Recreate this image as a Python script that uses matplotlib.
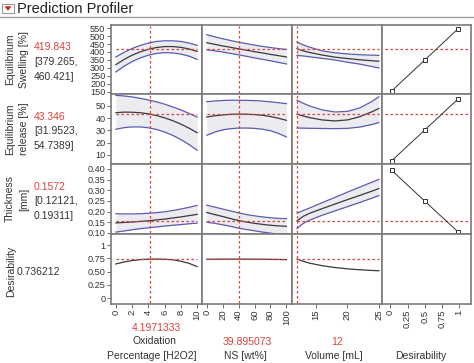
import matplotlib.pyplot as plt
from matplotlib.patches import Rectangle, Polygon

plt.rcParams['font.family'] = ['Liberation Sans', 'DejaVu Sans']

# factor settings
oxidation = [0, 1, 2, 3, 4, 5, 6, 7, 8, 9, 10]
ns = [0, 10, 20, 30, 40, 50, 60, 70, 80, 90, 100]
volume = [12, 13, 14, 16, 18, 20, 22, 24, 25]

# Equilibrium Swelling [%]
swell_ox = [321, 353, 380, 401, 417, 428, 434, 434, 429, 419, 404]
swell_ox_hi = [369, 398, 422, 441, 456, 466, 470, 470, 466, 456, 442]
swell_ox_lo = [275, 311, 340, 363, 380, 391, 396, 394, 387, 374, 354]
swell_ns = [458, 448, 438, 429, 420, 411, 402, 394, 385, 377, 369]
swell_ns_hi = [508, 495, 483, 472, 461, 452, 443, 435, 428, 421, 416]
swell_ns_lo = [414, 407, 400, 391, 382, 373, 363, 354, 345, 335, 325]
swell_vol = [420, 407, 397, 381, 368, 359, 351, 345, 342]
swell_vol_hi = [462, 444, 430, 407, 395, 388, 383, 380, 379]
swell_vol_lo = [379, 375, 370, 360, 350, 336, 324, 308, 300]

# Equilibrium release [%]
rel_ox = [44.5, 45.0, 44.9, 44.5, 43.6, 42.2, 40.3, 38.0, 35.2, 31.9, 28.2]
rel_ox_hi = [58.7, 58.2, 57.4, 56.3, 54.9, 53.4, 51.5, 49.2, 46.8, 44.0, 41.0]
rel_ox_lo = [31.0, 32.3, 32.9, 32.9, 32.2, 30.8, 28.7, 26.0, 22.6, 18.5, 13.8]
rel_ns = [41.0, 42.0, 42.7, 43.2, 43.35, 43.3, 43.0, 42.4, 41.4, 40.0, 38.3]
rel_ns_hi = [53.5, 54.1, 54.5, 54.7, 54.7, 54.6, 54.4, 54.0, 53.4, 52.7, 51.9]
rel_ns_lo = [26.1, 28.7, 30.5, 31.5, 31.95, 32.0, 31.7, 31.0, 29.8, 27.6, 24.7]
rel_vol = [43.35, 41.8, 40.5, 38.6, 37.8, 38.6, 41.3, 45.5, 48.0]
rel_vol_hi = [54.7, 52.2, 50.0, 46.8, 45.1, 45.6, 48.5, 54.0, 57.5]
rel_vol_lo = [32.0, 31.9, 31.8, 31.6, 31.5, 31.7, 32.8, 35.0, 36.5]

# Thickness [mm]
thick_ox = [0.147, 0.149, 0.151, 0.154, 0.157, 0.161, 0.165, 0.170, 0.175, 0.181, 0.187]
thick_ox_hi = [0.190, 0.189, 0.189, 0.190, 0.192, 0.195, 0.199, 0.205, 0.212, 0.220, 0.229]
thick_ox_lo = [0.104, 0.109, 0.115, 0.120, 0.124, 0.128, 0.132, 0.136, 0.139, 0.143, 0.146]
thick_ns = [0.196, 0.186, 0.177, 0.167, 0.158, 0.151, 0.145, 0.140, 0.136, 0.133, 0.131]
thick_ns_hi = [0.230, 0.221, 0.212, 0.203, 0.194, 0.186, 0.180, 0.175, 0.171, 0.168, 0.167]
thick_ns_lo = [0.150, 0.145, 0.138, 0.131, 0.122, 0.116, 0.110, 0.104, 0.099, 0.094, 0.088]
thick_vol = [0.157, 0.178, 0.192, 0.214, 0.235, 0.256, 0.276, 0.297, 0.308]
thick_vol_hi = [0.193, 0.205, 0.217, 0.242, 0.266, 0.291, 0.315, 0.339, 0.351]
thick_vol_lo = [0.121, 0.145, 0.160, 0.183, 0.203, 0.223, 0.243, 0.264, 0.275]

# Desirability
des_ox = [0.645, 0.682, 0.709, 0.727, 0.736, 0.738, 0.734, 0.724, 0.697, 0.657, 0.595]
des_ns = [0.733, 0.735, 0.736, 0.736, 0.736, 0.736, 0.735, 0.734, 0.732, 0.730, 0.727]
des_vol = [0.736, 0.695, 0.660, 0.612, 0.578, 0.553, 0.535, 0.522, 0.517]

# desirability functions (desirability, response)
des_pts = [0.0183, 0.5, 0.9817]
swell_des = [155, 350, 545]
rel_des = [5.1, 30.4, 55.7]
thick_des = [0.394, 0.249, 0.105]

# current settings / predictions
factor_now = [4.1971333, 39.895073, 12]
factor_now_txt = ['4.1971333', '39.895073', '12']
resp_labels = [['Equilibrium', 'Swelling [%]'], ['Equilibrium', 'release [%]'],
               ['Thickness', '[mm]'], ['Desirability']]
resp_now = [419.843, 43.346, 0.1572, 0.736212]
resp_now_txt = ['419.843', '43.346', '0.1572', '0.736212']
resp_ci_txt = [['[379.265,', '460.421]'], ['[31.9523,', '54.7389]'], ['[0.12121,', '0.19311]'], None]

xs = [oxidation, ns, volume]
curves = [
    [(swell_ox, swell_ox_hi, swell_ox_lo), (swell_ns, swell_ns_hi, swell_ns_lo), (swell_vol, swell_vol_hi, swell_vol_lo)],
    [(rel_ox, rel_ox_hi, rel_ox_lo), (rel_ns, rel_ns_hi, rel_ns_lo), (rel_vol, rel_vol_hi, rel_vol_lo)],
    [(thick_ox, thick_ox_hi, thick_ox_lo), (thick_ns, thick_ns_hi, thick_ns_lo), (thick_vol, thick_vol_hi, thick_vol_lo)],
    [(des_ox, None, None), (des_ns, None, None), (des_vol, None, None)],
]
des_funcs = [swell_des, rel_des, thick_des]

W, H = 474, 363
fig = plt.figure(figsize=(W / 100, H / 100), dpi=100)

# background layer in pixel coordinates
bg = fig.add_axes([0, 0, 1, 1])
bg.set_xlim(0, W)
bg.set_ylim(H, 0)
bg.axis('off')
bg.add_patch(Rectangle((2, 4), 12, 9, fc='white', ec='#9a9a9a', lw=0.8))
bg.add_patch(Polygon([(4.5, 6.3), (11.5, 6.3), (8, 10.8)], closed=True, fc='#d42020', ec='none'))
bg.text(17, 9, 'Prediction Profiler', fontsize=10.5, va='center', ha='left', color='#202020')
bg.plot([0, W], [16.5, 16.5], color='#a0a0a0', lw=1)

xe = [111, 202, 292, 382, 471]
ye = [25, 94, 164, 234, 304]
xlims = [(-0.6, 10.6), (-6, 107), (11.2, 25.5), (-0.12, 1.17)]
ylims = [(137, 569), (2.6, 59.8), (0.095, 0.423), (-0.11, 1.21)]
yticks = [list(range(150, 551, 50)), [10, 20, 30, 40, 50],
          [0.10, 0.15, 0.20, 0.25, 0.30, 0.35, 0.40], [0, 0.25, 0.5, 0.75, 1]]
ytl = [[str(v) for v in yticks[0]], [str(v) for v in yticks[1]],
       ['%.2f' % v for v in yticks[2]], ['0', '0.25', '0.50', '0.75', '1']]
xticks = [[0, 2, 4, 6, 8, 10], [0, 20, 40, 60, 80, 100], [15, 20, 25], [0, 0.25, 0.5, 0.75, 1]]
xtl = [[str(v) for v in xticks[0]], [str(v) for v in xticks[1]], ['15', '20', '25'],
       ['0', '0.25', '0.5', '0.75', '1']]

red = '#e0403a'
blue = '#5a5cb0'
band = '#ebebf0'
dash = (0, (2, 2))

for r in range(4):
    for c in range(4):
        ax = fig.add_axes([xe[c] / W, 1 - ye[r + 1] / H, (xe[c + 1] - xe[c]) / W, (ye[r + 1] - ye[r]) / H])
        ax.set_xlim(*xlims[c])
        ax.set_ylim(*ylims[r])
        for s in ax.spines.values():
            s.set_color('#7a7a7a')
            s.set_linewidth(1.2)
        ax.tick_params(length=0, labelleft=False, labelbottom=False)
        if c == 0:
            ax.set_yticks(yticks[r])
            ax.set_yticklabels(ytl[r])
            ax.tick_params(axis='y', length=3, width=0.6, color='#555555', labelleft=True,
                           labelsize=6.6, labelcolor='#333333', pad=1)
        if r == 3:
            ax.set_xticks(xticks[c])
            ax.set_xticklabels(xtl[c], rotation=90)
            ax.tick_params(axis='x', length=3, width=0.6, color='#555555', labelbottom=True,
                           labelsize=6.8, labelcolor='#333333', pad=1)
        if c < 3:
            mid, hi, lo = curves[r][c]
            x = xs[c]
            if hi is not None:
                ax.fill_between(x, lo, hi, color=band, lw=0)
                ax.plot(x, hi, color=blue, lw=0.9)
                ax.plot(x, lo, color=blue, lw=0.9)
            ax.plot(x, mid, color='#3a3a3a', lw=0.9)
            ax.plot([x[0], x[-1]], [resp_now[r], resp_now[r]], color=red, lw=0.9, ls=dash)
            ax.axvline(factor_now[c], ymin=0.02, ymax=0.98, color=red, lw=0.9, ls=dash)
        elif r < 3:
            ax.axhline(resp_now[r], xmin=0.03, xmax=0.98, color=red, lw=0.9, ls=dash)
            ax.plot(des_pts, des_funcs[r], color='#333333', lw=0.7, marker='s', ms=3.5,
                    mfc='white', mec='#333333', mew=0.7)

# row labels and current predictions
for r in range(4):
    yc = (ye[r] + ye[r + 1]) / 2
    lab = resp_labels[r]
    if len(lab) == 2:
        bg.text(10, yc, lab[0], rotation=90, ha='center', va='center', fontsize=7.5, color='#333333')
        bg.text(24, yc, lab[1], rotation=90, ha='center', va='center', fontsize=7.5, color='#333333')
        bg.text(34, yc - 12, resp_now_txt[r], ha='left', va='center', fontsize=7.5, color=red)
        bg.text(34, yc + 2.5, resp_ci_txt[r][0], ha='left', va='center', fontsize=7.5, color='#333333')
        bg.text(34, yc + 17, resp_ci_txt[r][1], ha='left', va='center', fontsize=7.5, color='#333333')
    else:
        bg.text(11, yc + 2, lab[0], rotation=90, ha='center', va='center', fontsize=7.5, color='#333333')
        bg.text(17, yc + 3, resp_now_txt[r], ha='left', va='center', fontsize=7.5, color='#333333')

# factor labels under the columns
bg.text(156, 328, factor_now_txt[0], ha='center', va='center', fontsize=7.5, color=red)
bg.text(154, 341, 'Oxidation', ha='center', va='center', fontsize=7.5, color='#333333')
bg.text(152, 356, 'Percentage [H2O2]', ha='center', va='center', fontsize=7.5, color='#333333')
bg.text(247, 342, factor_now_txt[1], ha='center', va='center', fontsize=7.5, color=red)
bg.text(245, 356, 'NS [wt%]', ha='center', va='center', fontsize=7.5, color='#333333')
bg.text(337, 342, factor_now_txt[2], ha='center', va='center', fontsize=7.5, color=red)
bg.text(334, 356, 'Volume [mL]', ha='center', va='center', fontsize=7.5, color='#333333')
bg.text(421, 356, 'Desirability', ha='center', va='center', fontsize=7.5, color='#333333')

fig.savefig('out.png', dpi=100)
